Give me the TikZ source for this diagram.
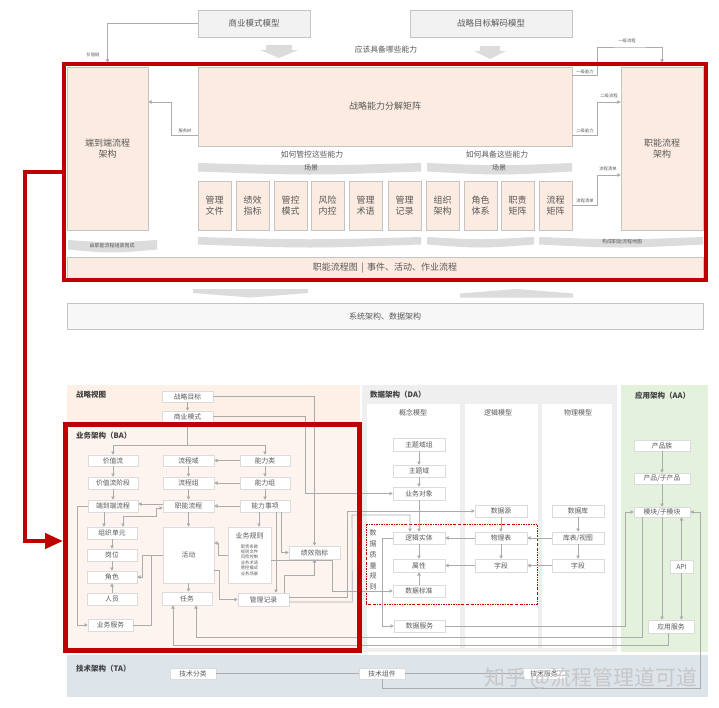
\documentclass[tikz,border=0pt]{standalone}
\usepackage{fontspec}
\setmainfont{Noto Sans CJK SC}
\usetikzlibrary{arrows.meta}
\definecolor{redf}{HTML}{C00000}
\definecolor{peach}{HTML}{FCEBE1}
\definecolor{stratbg}{HTML}{FDF0E6}
\definecolor{babg}{HTML}{FDF4EF}
\definecolor{dabg}{HTML}{EFEFEF}
\definecolor{aabg}{HTML}{E4F1DD}
\definecolor{tabg}{HTML}{DDE5EB}
\definecolor{lgray}{HTML}{ABABAB}
\definecolor{bgray}{HTML}{C4C4C4}
\definecolor{dgray}{HTML}{595959}
\definecolor{banner}{HTML}{DCDCDC}
\newcommand\bx[7][]{\node[inner sep=0pt,#1,minimum width={(#5-#3)*1pt},minimum height={(#6-#4)*1pt}] (#2) at ({(#3+#5)/2},{(#4+#6)/2}) {#7};}
\newcommand\bann[4]{\fill[banner] (#1,#2) .. controls ({(#1+#3)/2},{#2+3}) .. (#3,#2) -- (#3,{#4-1.5}) .. controls ({(#1+#3)/2},{#4+2.5}) .. (#1,{#4-1.5}) -- cycle;}
\begin{document}
\begin{tikzpicture}[x=1pt,y=-1pt,
  ln/.style={draw=lgray,line width=0.6pt},
  ar/.style={ln,-{Triangle[width=3.4pt,length=3.2pt]}},
  arb/.style={ln,{Triangle[width=3.4pt,length=3.2pt]}-{Triangle[width=3.4pt,length=3.2pt]}},
  gbox/.style={draw=bgray,fill=black!5,line width=0.7pt,text=dgray,font=\fontsize{8.5}{10}\selectfont},
  pbox/.style={draw=bgray,fill=peach,line width=0.7pt,text=dgray,align=center,font=\fontsize{9}{11}\selectfont},
  wbox/.style={draw=black!14,fill=white,line width=0.6pt,text=dgray,font=\fontsize{6.8}{8}\selectfont},
  lbl/.style={text=dgray,font=\fontsize{4.3}{5}\selectfont,inner sep=0.5pt},
  txt/.style={text=dgray,font=\fontsize{7.8}{9}\selectfont,inner sep=0pt},
  head/.style={text=black!75,font=\bfseries\fontsize{7.5}{9}\selectfont,anchor=west,inner sep=0pt},
]
\useasboundingbox (0,0) rectangle (719,707);
\fill[white] (0,0) rectangle (719,707);

% ---------------- top section ----------------
\bx[gbox]{sm}{198}{10}{310}{37}{商业模式模型}
\bx[gbox]{zl}{410}{10}{572}{37}{战略目标解码模型}
\fill[banner] (266,45) -- (292,45) -- (292,50) -- (298,50) -- (279,58) -- (260,50) -- (266,50) -- cycle;
\fill[banner] (480,46) -- (500,46) -- (500,51) -- (506,51) -- (490,59) -- (474,51) -- (480,51) -- cycle;
\node[txt] (yg) at (386,50) {应该具备哪些能力};

\bx[pbox]{e2e}{67}{67}{148}{230}{端到端流程\\架构}
\bx[pbox]{jz}{198}{67}{572}{146}{战略能力分解矩阵}
\bx[pbox]{zn}{621}{67}{703}{230}{职能流程\\架构}

\node[txt] (hg) at (312,155) {如何管控这些能力};
\node[txt] (hj) at (497,155) {如何具备这些能力};
\bann{198}{163}{421}{173}
\bann{427}{163}{572}{173}
\node[txt,font=\fontsize{7}{8}\selectfont] (cj1) at (311,168) {场景};
\node[txt,font=\fontsize{7}{8}\selectfont] (cj2) at (499,168) {场景};

\foreach \x/\t [count=\i] in {198/管理\\文件,236/绩效\\指标,274/管控\\模式,311/风险\\内控,349/管理\\术语,388/管理\\记录,426/组织\\架构,464/角色\\体系,501/职责\\矩阵,539/流程\\矩阵}{
  \bx[pbox]{b\i}{\x}{181}{\x+33}{230}{\t}
}

\bann{198}{237}{421}{246}
\bann{427}{237}{534}{246}
\bann{539}{237}{703}{246}
\bann{68}{240}{157}{251}
\node[lbl,font=\fontsize{5}{6}\selectfont] (gc) at (622,241.5) {构成职能流程地图};
\node[lbl,font=\fontsize{5}{6}\selectfont] (yz) at (112,245.5) {由职能流程组装而成};

\bx[pbox]{zntu}{67}{257}{703}{278}{职能流程图 \,|\, 事件、活动、作业流程}

% top connectors
\draw[ar] (sm.west) -| ([yshift=4pt]e2e.north);
\node[lbl] (lvc) at (93,55) {价值链};
\draw[ar] ([yshift=-9pt]jz.north east) -- ++(25,0) |- (630,47) -| ([yshift=4pt]zn.north);
\node[lbl] (l1a) at (585,72) {一级能力};
\node[lbl] (l1b) at (627,41) {一级流程};
\draw[ar] ([yshift=11pt]jz.south east) -- ++(25,0) |- ([yshift=46.5pt]zn.west);
\node[lbl] (l2a) at (585,131) {二级能力};
\node[lbl] (l2b) at (609,96) {二级流程};
\draw[ar] (b10.east) -- ++(25,0) |- ([yshift=-26.5pt]zn.west);
\node[lbl] (l3a) at (585,201) {流程清单};
\node[lbl] (l3b) at (608,169) {流程清单};
\draw[ar] ([yshift=11pt]jz.south west) -- ++(-26,0) |- ([yshift=46.5pt]e2e.east);
\node[lbl] (lfs) at (185,130.5) {服务树};

% middle
\fill[banner] (193,289) -- (308,289) -- (308,293) -- (250.5,297.5) -- (193,293) -- cycle;
\fill[banner] (460,297.5) -- (573,297.5) -- (573,293.5) -- (516.5,289) -- (460,293.5) -- cycle;
\bx[gbox,fill=black!3,font=\fontsize{8}{10}\selectfont]{xt}{67}{303}{703}{329}{系统架构、数据架构}

% ---------------- lower section backgrounds ----------------
\fill[stratbg] (67,385) rectangle (360,652);
\fill[babg] (66,424) rectangle (360,651);
\fill[dabg] (362,385) rectangle (617,652);
\fill[white] (367,404) rectangle (460,648);
\fill[white] (465,404) rectangle (538,648);
\fill[white] (542,404) rectangle (612,648);
\fill[aabg] (621,385) rectangle (708,652);
\fill[tabg] (67,655) rectangle (708,697);

\node[head] (hsv) at (76,395) {战略视图};
\node[head] (hba) at (76,436) {业务架构（BA）};
\node[head] (hda) at (370,395) {数据架构（DA）};
\node[head] (haa) at (635,396) {应用架构（AA）};
\node[head] (hta) at (76,669) {技术架构（TA）};
\node[txt,font=\fontsize{7}{8}\selectfont] (c1) at (413,413) {概念模型};
\node[txt,font=\fontsize{7}{8}\selectfont] (c2) at (498,413) {逻辑模型};
\node[txt,font=\fontsize{7}{8}\selectfont] (c3) at (578,413) {物理模型};

% strategy + BA boxes
\bx[wbox]{zm}{162}{391}{213}{402}{战略目标}
\bx[wbox]{sm2}{162}{411}{213}{422}{商业模式}
\bx[wbox]{jzl}{88}{455}{138}{466}{价值流}
\bx[wbox]{jzj}{88}{477}{138}{489}{价值流阶段}
\bx[wbox]{ddd}{88}{500}{138}{512}{端到端流程}
\bx[wbox]{lcy}{163}{455}{214}{466}{流程域}
\bx[wbox]{lcz}{163}{477}{214}{489}{流程组}
\bx[wbox]{znl}{163}{500}{214}{512}{职能流程}
\bx[wbox]{nll}{240}{455}{290}{466}{能力类}
\bx[wbox]{nlz}{240}{477}{290}{489}{能力组}
\bx[wbox]{nlsx}{240}{500}{290}{512}{能力事项}
\bx[wbox]{zzdy}{87}{527}{137}{539}{组织单元}
\bx[wbox]{gw}{87}{549}{137}{561}{岗位}
\bx[wbox]{js}{87}{571}{137}{583}{角色}
\bx[wbox]{ry}{87}{593}{137}{605}{人员}
\bx[wbox]{ywfw}{88}{619}{133}{631}{业务服务}
\bx[wbox]{act}{163}{527}{214}{583}{活动}
\bx[wbox]{rw}{162}{592}{212}{605}{任务}
\bx[wbox]{ywgz}{228}{527}{271}{583}{}
\node[txt,font=\fontsize{7}{8}\selectfont] (ywgzt) at (249.5,535.5) {业务规则};
\node[txt,align=center,font=\fontsize{4.3}{5.4}\selectfont] (ywgzl) at (249.5,560) {职责条款\\规则文件\\风险控制\\业务术语\\管控模式\\业务场景};
\bx[wbox]{gljl}{238}{593}{289}{606}{管理记录}
\bx[wbox]{jxzb}{289}{546}{340}{559}{绩效指标}

% DA boxes
\bx[wbox]{ztyz}{393}{438}{445}{451}{主题域组}
\bx[wbox]{zty}{393}{465}{445}{477}{主题域}
\bx[wbox]{ywdx}{393}{487}{445}{500}{业务对象}
\bx[wbox]{sjy}{475}{505}{527}{517}{数据源}
\bx[wbox]{sjk}{552}{505}{604}{517}{数据库}
\bx[wbox]{ljst}{393}{532}{445}{544}{逻辑实体}
\bx[wbox]{wlb}{475}{532}{527}{544}{物理表}
\bx[wbox]{kbst}{552}{532}{604}{544}{库表/视图}
\bx[wbox]{sx}{393}{559}{445}{572}{属性}
\bx[wbox]{zd1}{475}{559}{527}{572}{字段}
\bx[wbox]{zd2}{552}{559}{604}{572}{字段}
\bx[wbox]{sjbz}{393}{585}{445}{597}{数据标准}
\bx[wbox]{sjfw}{394}{620}{445}{632}{数据服务}
\draw[redf,line width=0.6pt,dash pattern=on 2pt off 1.2pt on 0.5pt off 1.2pt] (366,524) rectangle (537,604);
\node[txt,align=center,font=\fontsize{7}{10.8}\selectfont] (zlgz) at (373,560) {数\\据\\质\\量\\规\\则};

% AA boxes
\bx[wbox]{cpz}{634}{440}{690}{451}{产品族}
\bx[wbox]{cpzc}{634}{473}{690}{484}{产品/子产品}
\bx[wbox]{mk}{634}{507}{690}{517}{模块/子模块}
\bx[wbox]{api}{670}{560}{693}{573}{API}
\bx[wbox]{yyfw}{648}{620}{694}{633}{应用服务}

% TA boxes
\bx[wbox]{jsfl}{170}{668}{216}{679}{技术分类}
\bx[wbox]{jszj}{359}{668}{405}{679}{技术组件}
\bx[wbox]{jsfw}{523}{668}{565}{679}{技术服务}

% ---------------- lower connectors ----------------
\draw[ar] (zm.south) -- (sm2.north);
\draw[ar] (sm2.south) -- ++(0,23) -| (jzl.north);
\draw[ar] (sm2.south) -- ++(0,23) -| (nll.north);
\draw[ar] (zm.east) -| (jxzb.north);
\draw[ar] (sm2.east) -- (305,416.5) |- (ywdx.west);

\draw[ar] (jzl.south) -- (jzj.north);
\draw[ar] (jzj.south) -- (ddd.north);
\draw[ar] (lcy.south) -- (lcz.north);
\draw[ar] (lcz.south) -- (znl.north);
\draw[ar] (nll.south) -- (nlz.north);
\draw[ar] (nlz.south) -- (nlsx.north);
\draw[ar] (nll.west) -- (lcy.east);
\draw[ar] (nlz.west) -- (lcz.east);
\draw[ar] (nlsx.west) -- (znl.east);
\draw[ar] ([yshift=2pt]znl.west) -- ([yshift=2pt]ddd.east);
\draw[arb] ([yshift=-2pt]znl.west) -- ++(-6,0) -- ++(0,8) -| ([xshift=11pt]zzdy.north);
\draw[ar] ([xshift=-9pt]ddd.south) -- ([xshift=-8pt]zzdy.north);
\draw[ar] (ddd.west) -- ++(-10,0) |- (ywfw.west);
\draw[ar] (zzdy.south) -- (gw.north);
\draw[ar] (gw.south) -- (js.north);
\draw[ar] (ry.north) -- (js.south);
\draw[ar] (znl.south) -- (znl.south |- act.north);
\draw[ar] ([xshift=-6pt]nlsx.south) -- ([xshift=9.5pt]ywgz.north);
\draw[ar] ([xshift=11pt]nlsx.south) -- ([xshift=12.5pt]gljl.north);
\draw[ar] ([xshift=16pt]nlsx.south) |- (jxzb.west);
\draw[ar] (ywgz.west) -- ++(-9,0) |- ([yshift=12pt]act.east);
\draw[ar] ([yshift=-15pt]act.east) -- ++(5,0) |- (gljl.west);
\draw[ar] (act.south) -- (act.south |- rw.north);
\draw[ar] (act.west) -- ++(-20,0) |- (js.east);
\draw[ln] (act.west) -- ++(-11,0) |- (ywfw.east);
\draw[ar] ([xshift=-5pt]gljl.north east) -- ++(0,-17) -| (jxzb.south);
\draw[ar] ([yshift=-5pt]ywgz.east) -- ++(61,0) |- (sjbz.west);
\draw[ar] ([yshift=2.5pt]gljl.east) -- ++(58,0) |- (sjy.west);
\draw[ar] ([yshift=-2.5pt]gljl.east) -- ++(63,0) -- (352,515) -| ([xshift=-9pt]ljst.north);

\draw[ar] (ztyz.south) -- (zty.north);
\draw[ar] (zty.south) -- (ywdx.north);
\draw[ar] (ywdx.south) -- (ljst.north);
\draw[ar] (sjy.south) -- (wlb.north);
\draw[ar] (sjk.south) -- (kbst.north);
\draw[ar] (kbst.west) -- (wlb.east);
\draw[ar] (wlb.west) -- (ljst.east);
\draw[ar] (wlb.south) -- (zd1.north);
\draw[ar] (kbst.south) -- (zd2.north);
\draw[ar] (zd2.west) -- (zd1.east);
\draw[ar] (zd1.west) -- (sx.east);
\draw[ar] (ljst.south) -- (sx.north);
\draw[ar] (sjbz.north) -- (sx.south);
\draw[ar] (ljst.west) -- ++(-10,0) |- (sjfw.west);
\draw[ar] (sjfw.east) -- ++(180,0) |- (mk.west);

\draw[ar] (cpz.south) -- (cpzc.north);
\draw[ar] (cpzc.south) -- (mk.north);
\draw[ar] (mk.south) -- (mk.south |- yyfw.north);
\draw[ar] (api.north) -- (api.north |- mk.south);
\draw[ar] (api.south) -- (api.south |- yyfw.north);
\draw[ar] ([xshift=-20pt]mk.south) -- ++(0,120) -| ([xshift=9pt]rw.south);
\draw[ar] ([xshift=-3pt]yyfw.south) -- ++(0,12) -| ([xshift=-14pt]rw.south);
\draw[ar] (jszj.south) -- ++(0,8.5) -- ++(318,0) |- (mk.east);
\draw[ln] (jsfl.east) -- (jszj.west);
\draw[ln] (jszj.east) -- (jsfw.west);

% ---------------- red frames ----------------
\draw[redf,line width=4.5pt] (64.2,64.2) rectangle (705.8,279.8);
\draw[redf,line width=5pt] (65.5,424.5) rectangle (359.5,650.5);
\draw[redf,line width=4pt,line join=miter,-{Triangle[width=15pt,length=18pt]}] (64,172) -- (25,172) -- (25,541) -- (63,541);

% watermark
\node[inner sep=0pt,text=black!22,font=\fontsize{21}{21}\selectfont] (wm) at (591,678) {知乎 @流程管理道可道};
\end{tikzpicture}
\end{document}
